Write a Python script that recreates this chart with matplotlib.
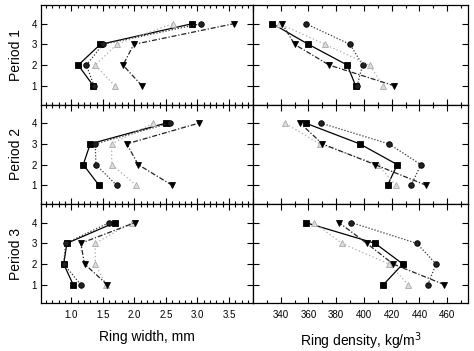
import matplotlib
matplotlib.use('Agg')
import matplotlib.pyplot as plt
from matplotlib.ticker import MultipleLocator

plt.rcParams['font.family'] = ['Liberation Sans', 'DejaVu Sans']

levels = [1, 2, 3, 4]
periods = ['Period 1', 'Period 2', 'Period 3']

# ring width, mm: one row per period, values for levels 1..4
width_square = [[1.35, 1.11, 1.46, 2.92], [1.44, 1.19, 1.30, 2.50], [1.03, 0.88, 0.93, 1.69]]
width_circle = [[1.36, 1.24, 1.50, 3.06], [1.72, 1.39, 1.38, 2.56], [1.15, 0.88, 0.91, 1.60]]
width_open = [[1.69, 1.38, 1.72, 2.61], [2.03, 1.64, 1.64, 2.30], [1.55, 1.38, 1.38, 1.96]]
width_down = [[2.12, 1.82, 1.99, 3.58], [2.60, 2.06, 1.88, 3.02], [1.57, 1.21, 1.15, 2.01]]

# ring density, kg/m3
dens_square = [[394, 388, 360, 334], [417, 424, 397, 358], [414, 428, 408, 358]]
dens_circle = [[395, 399, 390, 358], [434, 441, 418, 369], [446, 452, 438, 391]]
dens_open = [[414, 404, 372, 339], [423, 410, 368, 343], [432, 418, 384, 364]]
dens_down = [[422, 375, 350, 341], [445, 408, 370, 354], [458, 421, 402, 382]]

series = [
    (width_square, dens_square, dict(marker='s', color='black', ls='-', mfc='black')),
    (width_circle, dens_circle, dict(marker='o', color='#333333', ls=(0, (1, 1.5)), mfc='#222222')),
    (width_open, dens_open, dict(marker='^', color='#aaaaaa', ls=(0, (1, 2)), mfc='#dddddd')),
    (width_down, dens_down, dict(marker='v', color='#222222', ls=(0, (4, 1.5, 1, 1.5)), mfc='black')),
]

W, H = 474, 351
fig = plt.figure(figsize=(W / 100, H / 100), dpi=100)
fig.patch.set_facecolor('white')

x_left, x_mid, x_right = 41, 253, 468
row_edges = [5, 104.5, 204, 303.3]

for p in range(3):
    top, bot = row_edges[p], row_edges[p + 1]
    b = (H - bot) / H
    h = (bot - top) / H
    ax1 = fig.add_axes([x_left / W, b, (x_mid - x_left) / W, h])
    ax2 = fig.add_axes([x_mid / W, b, (x_right - x_mid) / W, h])

    for wd, dn, st in series:
        edge = st['color'] if st['marker'] == '^' else 'black'
        ax1.plot(wd[p], levels, lw=0.9, ms=4, mec=edge, marker=st['marker'],
                 color=st['color'], ls=st['ls'], mfc=st['mfc'], mew=0.6)
        ax2.plot(dn[p], levels, lw=0.9, ms=4, mec=edge, marker=st['marker'],
                 color=st['color'], ls=st['ls'], mfc=st['mfc'], mew=0.6)

    ax1.set_xlim(0.52, 3.88)
    ax2.set_xlim(320, 475)
    for ax in (ax1, ax2):
        ax.set_ylim(0.1, 4.9)
        ax.set_yticks(levels)
        ax.tick_params(which='both', direction='in', top=True, right=True,
                       width=0.8, labelsize=7, pad=3)
        ax.tick_params(axis='x', pad=5)
        ax.tick_params(which='major', length=4)
        ax.tick_params(which='minor', length=2)
        for s in ax.spines.values():
            s.set_linewidth(0.9)
    ax1.xaxis.set_major_locator(MultipleLocator(0.5))
    ax1.xaxis.set_minor_locator(MultipleLocator(0.1))
    ax2.xaxis.set_major_locator(MultipleLocator(20))
    ax2.xaxis.set_minor_locator(MultipleLocator(10))
    ax2.set_yticklabels([])
    ax1.set_ylabel(periods[p], fontsize=10, labelpad=6)
    if p < 2:
        ax1.set_xticklabels([])
        ax2.set_xticklabels([])
    else:
        ax1.set_xticks([1.0, 1.5, 2.0, 2.5, 3.0, 3.5])
        ax1.set_xticklabels(['1.0', '1.5', '2.0', '2.5', '3.0', '3.5'])
        ax2.set_xticks([340, 360, 380, 400, 420, 440, 460])
        ax1.set_xlabel('Ring width, mm', fontsize=10, labelpad=7)
        ax2.set_xlabel('Ring density, kg/m$^3$', fontsize=10, labelpad=7)

fig.savefig('out.png', dpi=100, facecolor='white')
